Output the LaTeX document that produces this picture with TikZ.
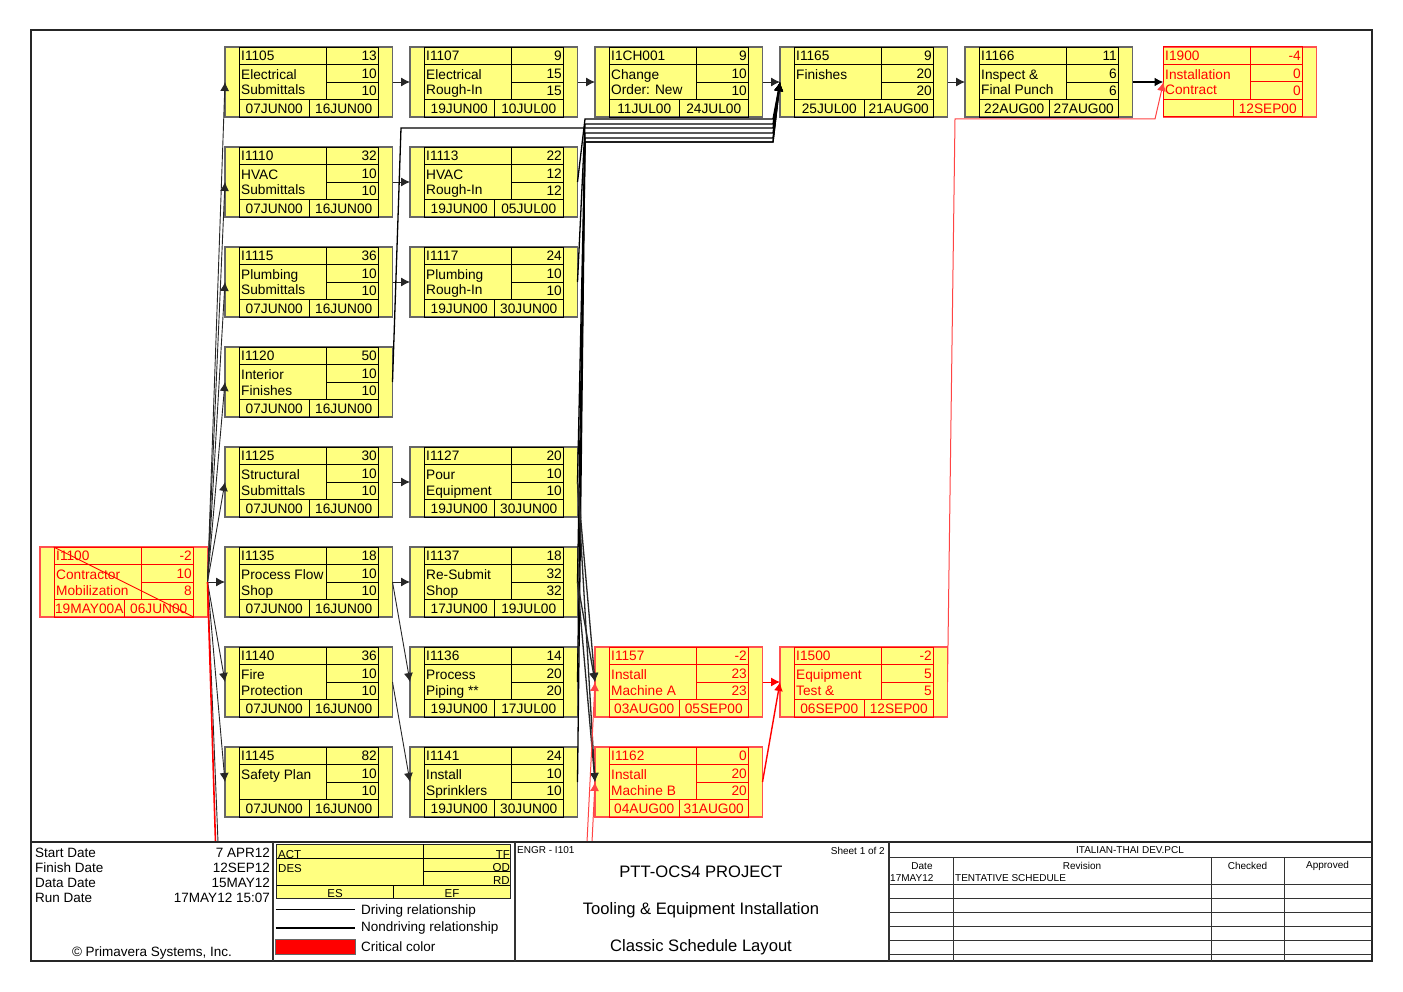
\documentclass[tikz,border=0pt]{standalone}
\usepackage{fontspec}
\setmainfont{Liberation Sans}
\usetikzlibrary{arrows.meta}
\definecolor{boxyellow}{HTML}{FFFF80}
\definecolor{edgeN}{HTML}{666666}
\definecolor{edgeC}{HTML}{FF5050}
\definecolor{critred}{HTML}{FF0000}
\tikzset{
  boxN/.style={draw=edgeN,fill=boxyellow,line width=1.1pt,rectangle,inner sep=0pt,outer sep=0pt,anchor=north west},
  boxC/.style={draw=edgeC,fill=boxyellow,line width=1.1pt,rectangle,inner sep=0pt,outer sep=0pt,anchor=north west},
  innerN/.style={draw=black,line width=0.9pt},
  innerC/.style={draw=critred,line width=1pt},
  txtN/.style={text=black,inner sep=0pt,font=\fontsize{13.7}{15}\selectfont},
  txtC/.style={text=critred,inner sep=0pt,font=\fontsize{13.7}{15}\selectfont},
  tipa/.style={-{Latex[length=9pt,width=9pt]}},
  drv/.style={tipa,draw=black!85,line width=0.9pt},
  nondrv/.style={tipa,draw=black,line width=1.3pt},
  nondrvmain/.style={tipa,draw=black,line width=1.8pt},
  crit/.style={tipa,draw=critred,line width=1pt},
  critthin/.style={tipa,draw=edgeC!85!critred,line width=1pt},
  lbl/.style={inner sep=0pt,font=\fontsize{13.5}{15}\selectfont},
  sml/.style={inner sep=0pt,font=\fontsize{10}{12}\selectfont},
  leg/.style={inner sep=0pt,font=\fontsize{11.5}{13}\selectfont},
  ttl/.style={inner sep=0pt,font=\fontsize{16.6}{19}\selectfont},
  frameline/.style={draw=black!85,line width=2pt},
  rowline/.style={draw=black!80,line width=1pt},
}
\newcommand\actbox[6][0]{%
  \def\bl{#1}\def\bn{#2}\def\bx{#3}\def\by{#4}\def\bk{#5}\def\bi{#6}\actboxb}
\newcommand\actboxb[7]{%
  \node[box\bk,minimum width={167.5pt-\bl pt},minimum height=70pt] (\bn) at (\bx+\bl,\by) {};
  \draw[inner\bk] (\bx+14.5,\by) rectangle (\bx+153.5,\by+70);
  \draw[inner\bk] (\bx+14.5,\by+17.5) -- (\bx+153.5,\by+17.5);
  \draw[inner\bk] (\bx+14.5,\by+52.5) -- (\bx+153.5,\by+52.5);
  \draw[inner\bk] (\bx+101,\by) -- (\bx+101,\by+52.5);
  \draw[inner\bk] (\bx+101,\by+35) -- (\bx+153.5,\by+35);
  \draw[inner\bk] (\bx+84,\by+52.5) -- (\bx+84,\by+70);
  \node[txt\bk,anchor=base west] (\bn-id) at (\bx+16,\by+13.8) {\bi};
  \node[txt\bk,anchor=base east] (\bn-tf) at (\bx+152,\by+13.8) {#1};
  \node[txt\bk,anchor=base west] (\bn-da) at (\bx+16,\by+32.6) {#2};
  \node[txt\bk,anchor=base west] (\bn-db) at (\bx+16,\by+48) {#3};
  \node[txt\bk,anchor=base east] (\bn-od) at (\bx+152,\by+31.3) {#4};
  \node[txt\bk,anchor=base east] (\bn-rd) at (\bx+152,\by+48.3) {#5};
  \node[txt\bk,anchor=base] (\bn-es) at (\bx+49.25,\by+66.3) {#6};
  \node[txt\bk,anchor=base] (\bn-ef) at (\bx+118.75,\by+66.3) {#7};
}
\begin{document}
\begin{tikzpicture}[x=1pt,y=-1pt]
\useasboundingbox (0,0) rectangle (1403,992);
\fill[white] (0,0) rectangle (1403,992);
% activity boxes
\actbox{I1100}{40}{547}{C}{I1100}{-2}{Contractor}{Mobilization}{10}{8}{19MAY00A}{06JUN00}
\draw[innerC,line width=0.9pt] (53.7,547) -- (193.7,617);
\actbox{I1105}{225}{47}{N}{I1105}{13}{Electrical}{Submittals}{10}{10}{07JUN00}{16JUN00}
\actbox{I1110}{225}{147}{N}{I1110}{32}{HVAC}{Submittals}{10}{10}{07JUN00}{16JUN00}
\actbox{I1115}{225}{247}{N}{I1115}{36}{Plumbing}{Submittals}{10}{10}{07JUN00}{16JUN00}
\actbox{I1120}{225}{347}{N}{I1120}{50}{Interior}{Finishes}{10}{10}{07JUN00}{16JUN00}
\actbox{I1125}{225}{447}{N}{I1125}{30}{Structural}{Submittals}{10}{10}{07JUN00}{16JUN00}
\actbox{I1135}{225}{547}{N}{I1135}{18}{Process Flow}{Shop}{10}{10}{07JUN00}{16JUN00}
\actbox{I1140}{225}{647}{N}{I1140}{36}{Fire}{Protection}{10}{10}{07JUN00}{16JUN00}
\actbox{I1145}{225}{747}{N}{I1145}{82}{Safety Plan}{}{10}{10}{07JUN00}{16JUN00}
\actbox{I1107}{410}{47}{N}{I1107}{9}{Electrical}{Rough-In}{15}{15}{19JUN00}{10JUL00}
\actbox{I1113}{410}{147}{N}{I1113}{22}{HVAC}{Rough-In}{12}{12}{19JUN00}{05JUL00}
\actbox{I1117}{410}{247}{N}{I1117}{24}{Plumbing}{Rough-In}{10}{10}{19JUN00}{30JUN00}
\actbox{I1127}{410}{447}{N}{I1127}{20}{Pour}{Equipment}{10}{10}{19JUN00}{30JUN00}
\actbox{I1137}{410}{547}{N}{I1137}{18}{Re-Submit}{Shop}{32}{32}{17JUN00}{19JUL00}
\actbox{I1136}{410}{647}{N}{I1136}{14}{Process}{Piping **}{20}{20}{19JUN00}{17JUL00}
\actbox{I1141}{410}{747}{N}{I1141}{24}{Install}{Sprinklers}{10}{10}{19JUN00}{30JUN00}
\actbox{I1CH001}{595}{47}{N}{I1CH001}{9}{Change}{Order: New}{10}{10}{11JUL00}{24JUL00}
\actbox{I1157}{595}{647}{C}{I1157}{-2}{Install}{Machine A}{23}{23}{03AUG00}{05SEP00}
\actbox{I1162}{595}{747}{C}{I1162}{0}{Install}{Machine B}{20}{20}{04AUG00}{31AUG00}
\actbox{I1165}{780}{47}{N}{I1165}{9}{Finishes}{}{20}{20}{25JUL00}{21AUG00}
\actbox{I1500}{780}{647}{C}{I1500}{-2}{Equipment}{Test \&}{5}{5}{06SEP00}{12SEP00}
\actbox{I1166}{965}{47}{N}{I1166}{11}{Inspect \&}{Final Punch}{6}{6}{22AUG00}{27AUG00}
\actbox[14.5]{I1900}{1149}{47}{C}{I1900}{-4}{Installation}{Contract}{0}{0}{}{12SEP00}
% free ends at the edge of the sheet
\coordinate (offA) at (218,842);
\coordinate (offB) at (215.5,842);
\coordinate (offC) at (587,842);
\coordinate (offD) at (592,842);
% bends
\coordinate (j20a) at (401,128); \coordinate (j20b) at (773,128);
\coordinate (j13a) at (585,119); \coordinate (j13b) at (773,119);
\coordinate (j17a) at (585,124); \coordinate (j17b) at (773,124);
\coordinate (j27a) at (585,133); \coordinate (j27b) at (773,133);
\coordinate (j37a) at (585,138); \coordinate (j37b) at (773,138);
\coordinate (j36a) at (585,142); \coordinate (j36b) at (773,142);
\coordinate (j00a) at (955,119); \coordinate (j00b) at (1155,119);
% connectors from I1100
\foreach \t in {I1105,I1110,I1115,I1120,I1125,I1135,I1140,I1145}
  \draw[drv] (I1100.east) -- (\t.west);
\draw[draw=black!85,line width=0.9pt] (I1100.east) -- (offA);
\draw[draw=critred,line width=1.6pt] (I1100.east) -- (offB);
% straight links
\draw[drv] (I1105.east) -- (I1107.west);
\draw[drv] (I1107.east) -- (I1CH001.west);
\draw[drv] (I1CH001.east) -- (I1165.west);
\draw[drv] (I1165.east) -- (I1166.west);
\draw[nondrvmain] (I1166.east) -- (I1900.west);
\draw[drv] (I1110.east) -- (I1113.west);
\draw[drv] (I1115.east) -- (I1117.west);
\draw[drv] (I1125.east) -- (I1127.west);
\draw[drv] (I1135.east) -- (I1137.west);
\draw[drv] (I1135.east) -- (I1136.west);
\draw[drv] (I1140.east) -- (I1141.west);
% to finishes
\draw[nondrv] (I1120.east) -- (j20a) -- (j20b) -- (I1165.west);
\draw[nondrv] (I1113.east) -- (j13a) -- (j13b) -- (I1165.west);
\draw[nondrv] (I1117.east) -- (j17a) -- (j17b) -- (I1165.west);
\draw[nondrv] (I1127.east) -- (j27a) -- (j27b) -- (I1165.west);
\draw[nondrv] (I1137.east) -- (j37a) -- (j37b) -- (I1165.west);
\draw[nondrv] (I1136.east) -- (j36a) -- (j36b) -- (I1165.west);
\draw[nondrv] (I1141.east) -- (j36a) -- (j36b) -- (I1165.west);
% to install
\draw[drv,line width=1.3pt] (I1127.east) -- (I1157.west);
\draw[drv,line width=1.3pt] (I1127.east) -- (I1162.west);
\draw[drv,line width=1.3pt] (I1137.east) -- (I1157.west);
\draw[drv,line width=1.3pt] (I1137.east) -- (I1162.west);
% critical
\draw[critthin] (offC) -- (I1157.west);
\draw[critthin] (offD) -- (I1162.west);
\draw[crit] (I1157.east) -- (I1500.west);
\draw[crit,line width=1.4pt] (I1162.east) -- (I1500.west);
\draw[critthin] (I1500.east) -- (j00a) -- (j00b) -- (I1900.west);
% title block
\fill[white] (31,842) rectangle (1372,961);
\draw[frameline] (31,30) rectangle (1372,961);
\draw[frameline] (31,842) -- (1372,842);
\draw[rowline,line width=1.3pt] (273,842) -- (273,961);
\draw[rowline,line width=1.3pt] (515,842) -- (515,961);
\draw[rowline,line width=1.3pt] (889,842) -- (889,961);
\draw[rowline] (889,857) -- (1372,857);
\foreach \vx in {953,1211,1284} \draw[rowline] (\vx,857) -- (\vx,961);
\foreach \hy in {884.5,898.5,912,926,940,954} \draw[rowline] (889,\hy) -- (1372,\hy);
% left block
\node[lbl,anchor=west] (sdl) at (35,852.7) {Start Date};
\node[lbl,anchor=west] (fdl) at (35,867.7) {Finish Date};
\node[lbl,anchor=west] (ddl) at (35,882.7) {Data Date};
\node[lbl,anchor=west] (rdl) at (35,897.7) {Run Date};
\node[lbl,anchor=east] (sdv) at (270,852.7) {7 APR12};
\node[lbl,anchor=east] (fdv) at (270,867.7) {12SEP12};
\node[lbl,anchor=east] (ddv) at (270,882.7) {15MAY12};
\node[lbl,anchor=east] (rdv) at (270,897.7) {17MAY12 15:07};
\node[lbl] (copy) at (152,953) {© Primavera Systems, Inc.};
% legend
\fill[boxyellow] (276.5,844) rectangle (510,898);
\draw[innerN,draw=black!85] (276.5,844) rectangle (510,898);
\draw[innerN] (276.5,858) -- (510,858);
\draw[innerN] (423,844) -- (423,885);
\draw[innerN] (423,871.5) -- (510,871.5);
\draw[innerN] (276.5,885) -- (510,885);
\draw[innerN] (393,885) -- (393,898);
\node[leg,anchor=west] (lact) at (278,854.5) {ACT};
\node[leg,anchor=west] (ldes) at (278,868.5) {DES};
\node[leg,anchor=east] (ltf) at (510,854.5) {TF};
\node[leg,anchor=east] (lod) at (510,867.5) {OD};
\node[leg,anchor=east] (lrd) at (510,881) {RD};
\node[leg] (les) at (335,894) {ES};
\node[leg] (lef) at (452,894) {EF};
\draw[draw=black,line width=0.8pt] (275.5,909.5) -- (355,909.5);
\draw[draw=black,line width=1.8pt] (275.5,928) -- (355,928);
\draw[draw=edgeN,fill=critred,line width=1pt] (275.5,939) rectangle (355,954);
\node[lbl,anchor=west] (ld) at (361,910.8) {Driving relationship};
\node[lbl,anchor=west] (ln) at (361,928.3) {Nondriving relationship};
\node[lbl,anchor=west] (lc) at (361,946.8) {Critical color};
% centre block
\node[sml,anchor=west] (engr) at (517,850.5) {ENGR - I101};
\node[sml,anchor=east] (sheet) at (885,850.5) {Sheet 1 of 2};
\node[ttl] (t1) at (701,871.5) {PTT-OCS4 PROJECT};
\node[ttl] (t2) at (701,910) {Tooling \& Equipment Installation};
\node[ttl] (t3) at (701,947) {Classic Schedule Layout};
% right block
\node[sml] (file) at (1130,850.5) {ITALIAN-THAI DEV.PCL};
\node[sml] (hd) at (922,866) {Date};
\node[sml] (hr) at (1082,866) {Revision};
\node[sml] (hc) at (1247.5,866) {Checked};
\node[sml] (ha) at (1327.5,866) {Approved};
\node[sml,anchor=west] (rd1) at (890,878.5) {17MAY12};
\node[sml,anchor=west] (rt1) at (955,878.5) {TENTATIVE SCHEDULE};
\end{tikzpicture}
\end{document}
